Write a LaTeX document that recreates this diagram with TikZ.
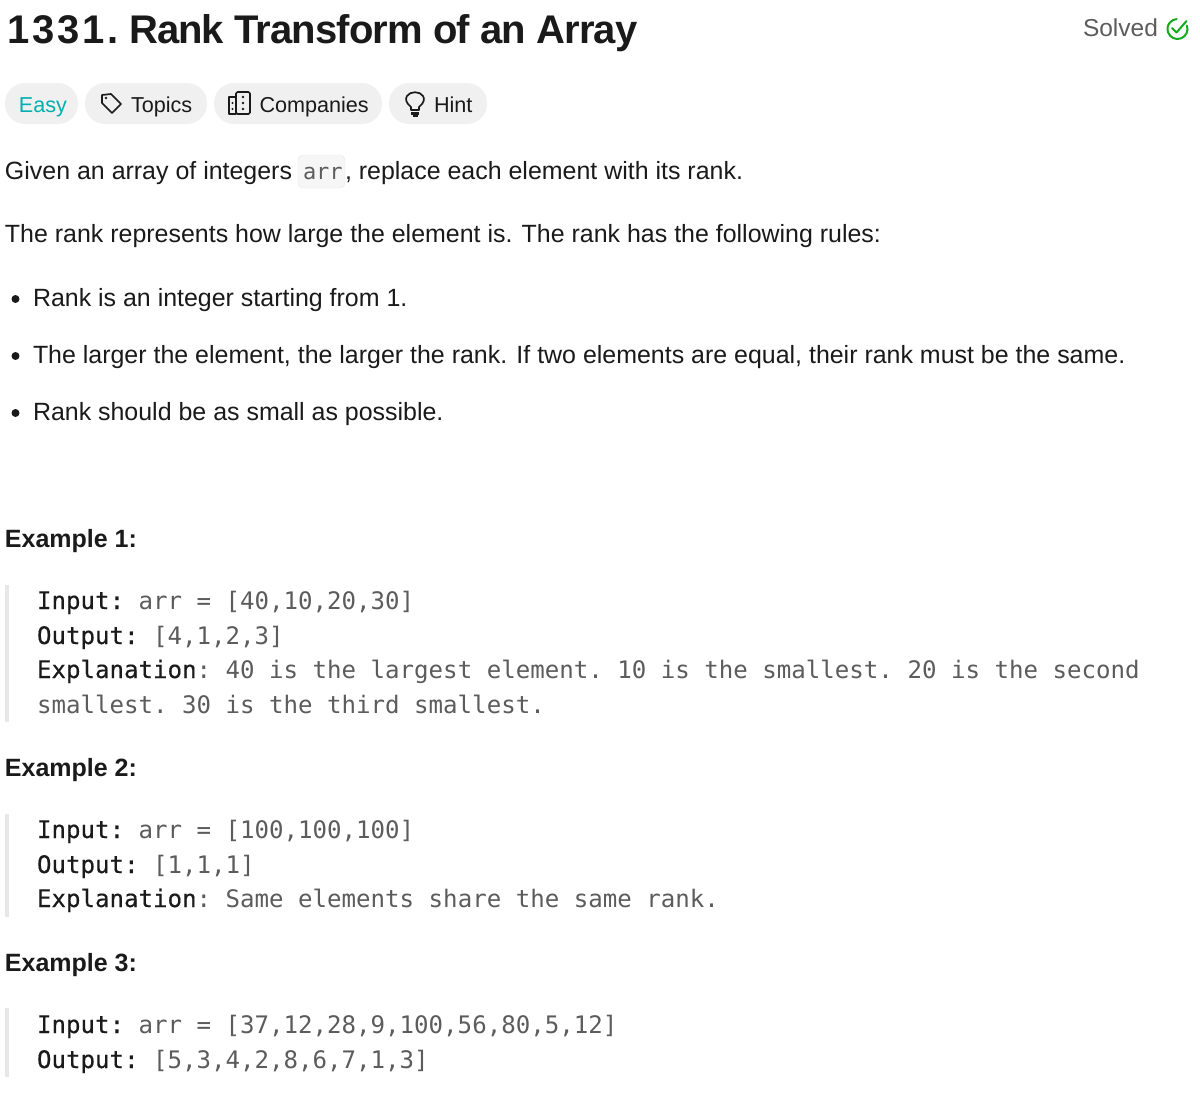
\documentclass[tikz,border=0pt]{standalone}
\usepackage{fontspec}
\setmainfont{Liberation Sans}
\setmonofont{DejaVu Sans Mono}
\usetikzlibrary{positioning}
\definecolor{lcink}{RGB}{26,26,26}
\definecolor{lcgray}{RGB}{92,92,92}
\definecolor{lcpill}{RGB}{240,240,240}
\definecolor{lcbar}{RGB}{232,232,232}
\definecolor{lcteal}{RGB}{0,175,175}
\definecolor{lcgreen}{RGB}{20,170,30}
\newcommand{\kw}[1]{{\color{lcink}\addfontfeature{FakeBold=0.4}#1}}
\begin{document}
\begin{tikzpicture}[x=1pt,y=-1pt,
  every node/.style={inner sep=0pt,outer sep=0pt,text=lcink},
  titletext/.style={anchor=base west,font=\fontsize{40}{40}\selectfont\bfseries},
  bodytext/.style={anchor=base west,font=\fontsize{24.95}{30}\selectfont},
  headtext/.style={anchor=base west,font=\fontsize{25}{30}\selectfont\bfseries},
  pilltext/.style={anchor=base west,font=\fontsize{21.6}{26}\selectfont},
  codetext/.style={anchor=base west,text=lcgray,font=\fontsize{24.1}{30}\ttfamily},
  pill/.style={fill=lcpill,rounded corners=20pt},
  quotebar/.style={fill=lcbar},
  icon/.style={draw=lcink,line width=1.7pt,line join=round,line cap=round}
]
\useasboundingbox (0,0) rectangle (1200,1093);
\fill[white] (0,0) rectangle (1200,1093);

% Header
\node[titletext] (number) at (7,43) {\addfontfeature{LetterSpace=7}1331.};
\node[titletext] (title) at (129,43) {\addfontfeature{LetterSpace=-2.2}Rank Transform of an Array};
\node[anchor=base west,text=lcgray,font=\fontsize{24.5}{30}\selectfont] (solved) at (1083,36) {Solved};
\draw[lcgreen,line width=2pt,line cap=round] (1177.5,29) ++(-20:10) arc (-20:265:10);
\draw[lcgreen,line width=2pt,line cap=round,line join=round] (1172,28) -- (1176.5,32.5) -- (1186.5,21);

% Pills
\fill[pill] (5,83) rectangle (78,124);
\fill[pill] (85,83) rectangle (207,124);
\fill[pill] (214,83) rectangle (382,124);
\fill[pill] (389,83) rectangle (487,124);
\node[pilltext,text=lcteal] (easy) at (19,112) {Easy};
\node[pilltext] (topics) at (131,112) {Topics};
\node[pilltext] (companies) at (259.5,112) {Companies};
\node[pilltext] (hint) at (434,112) {Hint};
% tag icon
\draw[icon] (102,95) -- (111,94) -- (121,104) -- (112,113) -- (102,103) -- cycle;
\fill[lcink] (106,98) circle (1.3);
% building icon
\draw[icon] (236,97) -- (229,97) -- (229,114) -- (236,114);
\draw[icon,rounded corners=1.5pt] (236,92) rectangle (250,114);
\foreach \yy in {97,103,109} \fill[lcink] (243,\yy) circle (1.3);
\foreach \yy in {103,109} \fill[lcink] (232.5,\yy) circle (1.2);
% bulb icon
\draw[icon] (411,110) -- (411,107) .. controls (406,103) and (405,99) .. (407,96)
  .. controls (410,91) and (420,91) .. (423,96) .. controls (425,99) and (424,103) .. (419,107) -- (419,110) -- cycle;
\fill[lcink] (411,112) rectangle (419,114.5);
\fill[lcink] (412.5,115) rectangle (417.5,117);

% Statement
\node[bodytext] (given) at (5,179) {Given an array of integers};
\fill[lcpill!60,draw=lcbar,rounded corners=5pt] (298,155) rectangle (345,188);
\node[codetext,font=\fontsize{22}{30}\ttfamily] (code) at (303,179) {arr};
\node[bodytext] (replace) at (345,179) {, replace each element with its rank.};
\node[bodytext] (rules) at (5,242) {The rank represents how large the element is. The rank has the following rules:};

% Rules
\foreach \yy in {298,355,412} \fill[lcink] (15.5,\yy+1) circle (4);
\node[bodytext] (rulea) at (33,306) {Rank is an integer starting from 1.};
\node[bodytext] (ruleb) at (33,363) {The larger the element, the larger the rank. If two elements are equal, their rank must be the same.};
\node[bodytext] (rulec) at (33,420) {Rank should be as small as possible.};

% Example 1
\node[headtext] (exa) at (5,547) {Example 1:};
\fill[quotebar] (5,585) rectangle (9,722);
\node[codetext] (exain) at (37,609) {\kw{Input:} arr = [40,10,20,30]};
\node[codetext] (exaout) at (37,644) {\kw{Output:} [4,1,2,3]};
\node[codetext] (exaex) at (37,678) {\kw{Explanation}: 40 is the largest element. 10 is the smallest. 20 is the second};
\node[codetext] (exaexb) at (37,713) {smallest. 30 is the third smallest.};

% Example 2
\node[headtext] (exb) at (5,776) {Example 2:};
\fill[quotebar] (5,814) rectangle (9,917);
\node[codetext] (exbin) at (37,838) {\kw{Input:} arr = [100,100,100]};
\node[codetext] (exbout) at (37,873) {\kw{Output:} [1,1,1]};
\node[codetext] (exbex) at (37,907) {\kw{Explanation}: Same elements share the same rank.};

% Example 3
\node[headtext] (exc) at (5,971) {Example 3:};
\fill[quotebar] (5,1008) rectangle (9,1077);
\node[codetext] (excin) at (37,1033) {\kw{Input:} arr = [37,12,28,9,100,56,80,5,12]};
\node[codetext] (excout) at (37,1068) {\kw{Output:} [5,3,4,2,8,6,7,1,3]};
\end{tikzpicture}
\end{document}
